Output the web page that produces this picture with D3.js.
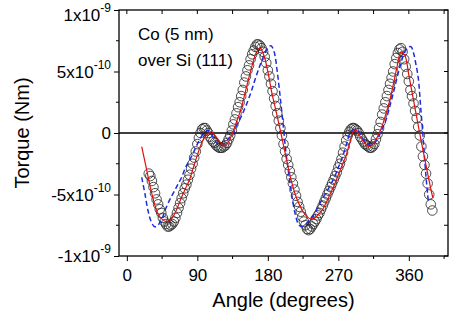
<!DOCTYPE html>
<html>
<head>
<meta charset="utf-8">
<script src="https://cdn.jsdelivr.net/npm/d3@7"></script>
<style>
  body { margin: 0; background: #fff; }
  svg { display: block; font-family: "Liberation Sans", Arial, sans-serif; }
</style>
</head>
<body>
<div id="chart"></div>
<script>
// torque values are in units of 1e-10 Nm
const circleAngle = [
    28, 30, 32, 34, 36, 38, 40, 42, 44, 46,
    48, 50, 52, 54, 56, 58, 60, 62, 64, 66,
    68, 70, 72, 74, 76, 78, 80, 82, 84, 86,
    88, 90, 92, 94, 96, 98, 100, 102, 104, 106,
    108, 110, 112, 114, 116, 118, 120, 122, 124, 126,
    128, 130, 132, 134, 136, 138, 140, 142, 144, 146,
    148, 150, 152, 154, 156, 158, 160, 162, 164, 166,
    168, 170, 172, 174, 176, 178, 180, 182, 184, 186,
    188, 190, 192, 194, 196, 198, 200, 202, 204, 206,
    208, 210, 212, 214, 216, 218, 220, 222, 224, 226,
    228, 230, 232, 234, 236, 238, 240, 242, 244, 246,
    248, 250, 252, 254, 256, 258, 260, 262, 264, 266,
    268, 270, 272, 274, 276, 278, 280, 282, 284, 286,
    288, 290, 292, 294, 296, 298, 300, 302, 304, 306,
    308, 310, 312, 314, 316, 318, 320, 322, 324, 326,
    328, 330, 332, 334, 336, 338, 340, 342, 344, 346,
    348, 350, 352, 354, 356, 358, 360, 362, 364, 366,
    368, 370, 372, 374, 376, 378, 380, 382, 384, 386,
    388, 390];
const circleTorque = [
    -3.3, -3.5, -3.9, -4.4, -4.9, -5.4, -5.8, -6.2, -6.5, -6.9,
    -7.2, -7.4, -7.6, -7.6, -7.5, -7.4, -7.2, -6.9, -6.5, -6.1,
    -5.7, -5.3, -4.9, -4.5, -4.2, -3.8, -3.4, -2.9, -2.5, -2.0,
    -1.5, -0.9, -0.4, 0.0, 0.3, 0.4, 0.4, 0.2, 0.0, -0.3,
    -0.5, -0.7, -0.8, -1.0, -1.1, -1.2, -1.2, -1.2, -1.1, -1.0,
    -0.8, -0.5, -0.2, 0.2, 0.7, 1.1, 1.6, 2.1, 2.5, 3.0,
    3.5, 4.1, 4.6, 5.1, 5.5, 6.0, 6.4, 6.7, 7.0, 7.2,
    7.2, 7.1, 6.9, 6.6, 6.2, 5.7, 5.1, 4.6, 4.0, 3.4,
    2.8, 2.2, 1.6, 1.0, 0.4, -0.2, -0.9, -1.5, -2.1, -2.6,
    -3.1, -3.6, -4.1, -4.6, -5.1, -5.6, -6.0, -6.4, -6.8, -7.2,
    -7.5, -7.8, -7.9, -7.8, -7.6, -7.4, -7.2, -7.0, -6.7, -6.5,
    -6.2, -5.9, -5.6, -5.3, -5.0, -4.7, -4.4, -4.1, -3.8, -3.5,
    -3.2, -2.8, -2.5, -2.1, -1.6, -1.1, -0.6, -0.2, 0.1, 0.3,
    0.4, 0.4, 0.3, 0.2, 0.0, -0.3, -0.5, -0.7, -0.9, -1.0,
    -1.1, -1.2, -1.2, -1.1, -0.9, -0.5, -0.1, 0.4, 0.9, 1.5,
    2.0, 2.5, 3.0, 3.5, 4.0, 4.5, 5.0, 5.6, 6.1, 6.5,
    6.8, 6.9, 6.6, 6.0, 5.4, 4.8, 4.2, 3.5, 3.0, 2.4,
    1.8, 1.2, 0.5, -0.2, -1.1, -1.9, -2.6, -3.3, -4.1, -5.0,
    -5.8, -6.3];

const redAngle = [19, 25, 30, 35, 40, 45, 50, 55, 60, 65, 70, 75, 80, 85, 90, 95, 100, 105, 108, 111, 115, 120, 125, 130, 135, 140, 145, 150, 155, 160, 165, 170, 175, 180, 185, 190, 195, 200, 205, 210, 215, 220, 225, 230, 235, 240, 245, 250, 255, 260, 265, 270, 275, 280, 285, 290, 293, 296, 300, 305, 310, 315, 320, 325, 330, 335, 340, 345, 350, 355, 360, 365, 370, 375, 380, 385, 390, 391];
const redTorque = [-1.1, -2.9, -4.4, -5.7, -6.6, -7.0, -7.2, -7.1, -6.7, -6.0, -5.2, -4.5, -3.8, -2.8, -1.8, -0.9, -0.3, 0.0, 0.1, -0.1, -0.4, -0.8, -1.0, -0.7, 0.0, 0.9, 1.8, 3.0, 4.3, 5.5, 6.5, 6.9, 6.3, 5.0, 3.3, 1.9, 0.5, -1.0, -2.5, -3.9, -5.0, -5.8, -6.4, -6.8, -7.0, -6.9, -6.6, -6.2, -5.6, -4.9, -4.2, -3.4, -2.6, -1.8, -0.7, 0.2, 0.2, -0.1, -0.5, -0.9, -1.1, -0.8, -0.3, 0.4, 1.4, 2.5, 3.9, 5.4, 6.6, 6.3, 4.7, 3.0, 1.3, -0.4, -2.0, -3.6, -5.1, -5.3];

const blueAngle = [19, 23, 27, 31, 35, 38, 42, 46, 50, 55, 60, 65, 70, 75, 80, 85, 90, 95, 100, 104, 108, 112, 116, 120, 124, 128, 132, 136, 140, 145, 150, 155, 160, 165, 170, 175, 180, 184, 188, 192, 196, 200, 203, 206, 210, 215, 220, 225, 230, 235, 240, 245, 250, 255, 260, 265, 270, 275, 280, 285, 290, 295, 300, 305, 310, 315, 320, 325, 330, 335, 340, 345, 350, 355, 360, 363, 366, 369, 372, 375, 378, 380, 382, 384, 385];
const blueTorque = [-3.6, -4.9, -6.3, -7.2, -7.6, -7.6, -7.3, -6.8, -6.1, -5.4, -4.8, -4.2, -3.6, -2.8, -2.2, -1.6, -0.9, -0.3, 0.1, 0.2, -0.1, -0.6, -0.9, -1.0, -0.9, -0.6, -0.3, 0.0, 0.6, 1.2, 1.9, 2.7, 3.6, 4.6, 5.5, 6.3, 6.9, 7.1, 6.6, 5.0, 2.8, 0.4, -1.5, -3.0, -4.8, -6.6, -7.5, -7.6, -7.3, -6.9, -6.5, -5.9, -5.3, -4.8, -4.2, -3.6, -2.8, -2.0, -1.0, 0.0, 0.3, 0.2, -0.3, -0.8, -1.0, -0.9, -0.5, 0.2, 0.9, 2.0, 3.2, 4.5, 5.7, 6.6, 7.0, 7.0, 6.5, 5.6, 4.5, 2.2, -0.2, -2.0, -3.6, -5.0, -5.6];

// axis ticks
const xTicks = [0, 90, 180, 270, 360];
const xMinorTicks = [45, 135, 225, 315, 405];
const yTicks = [-10, -5, 0, 5, 10];
const yMinorTicks = [-7.5, -2.5, 2.5, 7.5];
const yTickBase = ["-1x10", "-5x10", "0", "5x10", "1x10"];
const yTickExp = ["-9", "-10", "", "-10", "-9"];

const width = 474, height = 336;
const plot = { left: 119, right: 448, top: 10, bottom: 256 };

const svg = d3.select("#chart").append("svg")
    .attr("width", width)
    .attr("height", height);

const x = d3.scaleLinear().domain([-10, 410]).range([plot.left, plot.right]);
const y = d3.scaleLinear().domain([-10, 10]).range([plot.bottom, plot.top]);

// zero line
svg.append("line")
    .attr("x1", plot.left).attr("x2", plot.right)
    .attr("y1", y(0)).attr("y2", y(0))
    .attr("stroke", "#000").attr("stroke-width", 1.3);

const circles = circleAngle.map((a, i) => ({ a, t: circleTorque[i] }));
const red = redAngle.map((a, i) => ({ a, t: redTorque[i] }));
const blue = blueAngle.map((a, i) => ({ a, t: blueTorque[i] }));

// data points
svg.append("g").selectAll("circle")
    .data(circles)
    .enter().append("circle")
    .attr("cx", d => x(d.a))
    .attr("cy", d => y(d.t))
    .attr("r", 4.8)
    .attr("fill", "none")
    .attr("stroke", "#222")
    .attr("stroke-width", 0.8);

const line = d3.line()
    .x(d => x(d.a))
    .y(d => y(d.t))
    .curve(d3.curveCatmullRom);

svg.append("path")
    .datum(blue)
    .attr("d", line)
    .attr("fill", "none")
    .attr("stroke", "#1f2be0")
    .attr("stroke-width", 1.5)
    .attr("stroke-dasharray", "5,3");

svg.append("path")
    .datum(red)
    .attr("d", line)
    .attr("fill", "none")
    .attr("stroke", "#e01010")
    .attr("stroke-width", 1.2);

// frame
svg.append("rect")
    .attr("x", plot.left).attr("y", plot.top)
    .attr("width", plot.right - plot.left)
    .attr("height", plot.bottom - plot.top)
    .attr("fill", "none")
    .attr("stroke", "#000")
    .attr("stroke-width", 1.3);

// bottom axis
const xAxis = svg.append("g").attr("transform", `translate(0,${plot.bottom})`);
xAxis.call(d3.axisBottom(x).tickValues(xTicks).tickSize(5).tickPadding(8))
    .call(g => g.select(".domain").remove());
xAxis.selectAll("text").attr("font-size", 17).attr("font-family", "Liberation Sans, Arial");
xAxis.append("g").selectAll("line")
    .data(xMinorTicks).enter().append("line")
    .attr("x1", d => x(d)).attr("x2", d => x(d))
    .attr("y1", 0).attr("y2", 3)
    .attr("stroke", "#000");

// top axis mirror ticks (inward)
svg.append("g").selectAll("line")
    .data(xTicks.concat(xMinorTicks)).enter().append("line")
    .attr("x1", d => x(d)).attr("x2", d => x(d))
    .attr("y1", plot.top).attr("y2", plot.top + 4)
    .attr("stroke", "#000");

// left axis
const yAxis = svg.append("g").attr("transform", `translate(${plot.left},0)`);
yAxis.call(d3.axisLeft(y).tickValues(yTicks).tickSize(5).tickFormat(""))
    .call(g => g.select(".domain").remove());
yAxis.append("g").selectAll("line")
    .data(yMinorTicks).enter().append("line")
    .attr("x1", 0).attr("x2", -3)
    .attr("y1", d => y(d)).attr("y2", d => y(d))
    .attr("stroke", "#000");

// tick labels with superscript exponent; top one nudged down to stay on the page
const yLabels = svg.append("g").selectAll("text")
    .data(yTicks).enter().append("text")
    .attr("x", 111)
    .attr("y", d => Math.max(y(d) + 6, 21))
    .attr("text-anchor", "end")
    .attr("font-size", 17);
yLabels.append("tspan").text((d, i) => yTickBase[i]);
yLabels.append("tspan")
    .attr("dy", -9)
    .attr("font-size", 12)
    .text((d, i) => yTickExp[i]);

// right axis mirror ticks (inward)
svg.append("g").selectAll("line")
    .data(yTicks.concat(yMinorTicks)).enter().append("line")
    .attr("x1", plot.right).attr("x2", plot.right - 4)
    .attr("y1", d => y(d)).attr("y2", d => y(d))
    .attr("stroke", "#000");

// axis titles
svg.append("text")
    .attr("x", (plot.left + plot.right) / 2)
    .attr("y", 307)
    .attr("text-anchor", "middle")
    .attr("font-size", 20)
    .text("Angle (degrees)");

svg.append("text")
    .attr("transform", `translate(29,${y(0)}) rotate(-90)`)
    .attr("text-anchor", "middle")
    .attr("font-size", 20)
    .text("Torque (Nm)");

// sample annotation
svg.append("text").attr("x", 138).attr("y", 40).attr("font-size", 17).text("Co (5 nm)");
svg.append("text").attr("x", 138).attr("y", 66).attr("font-size", 17).text("over Si (111)");
</script>
</body>
</html>
